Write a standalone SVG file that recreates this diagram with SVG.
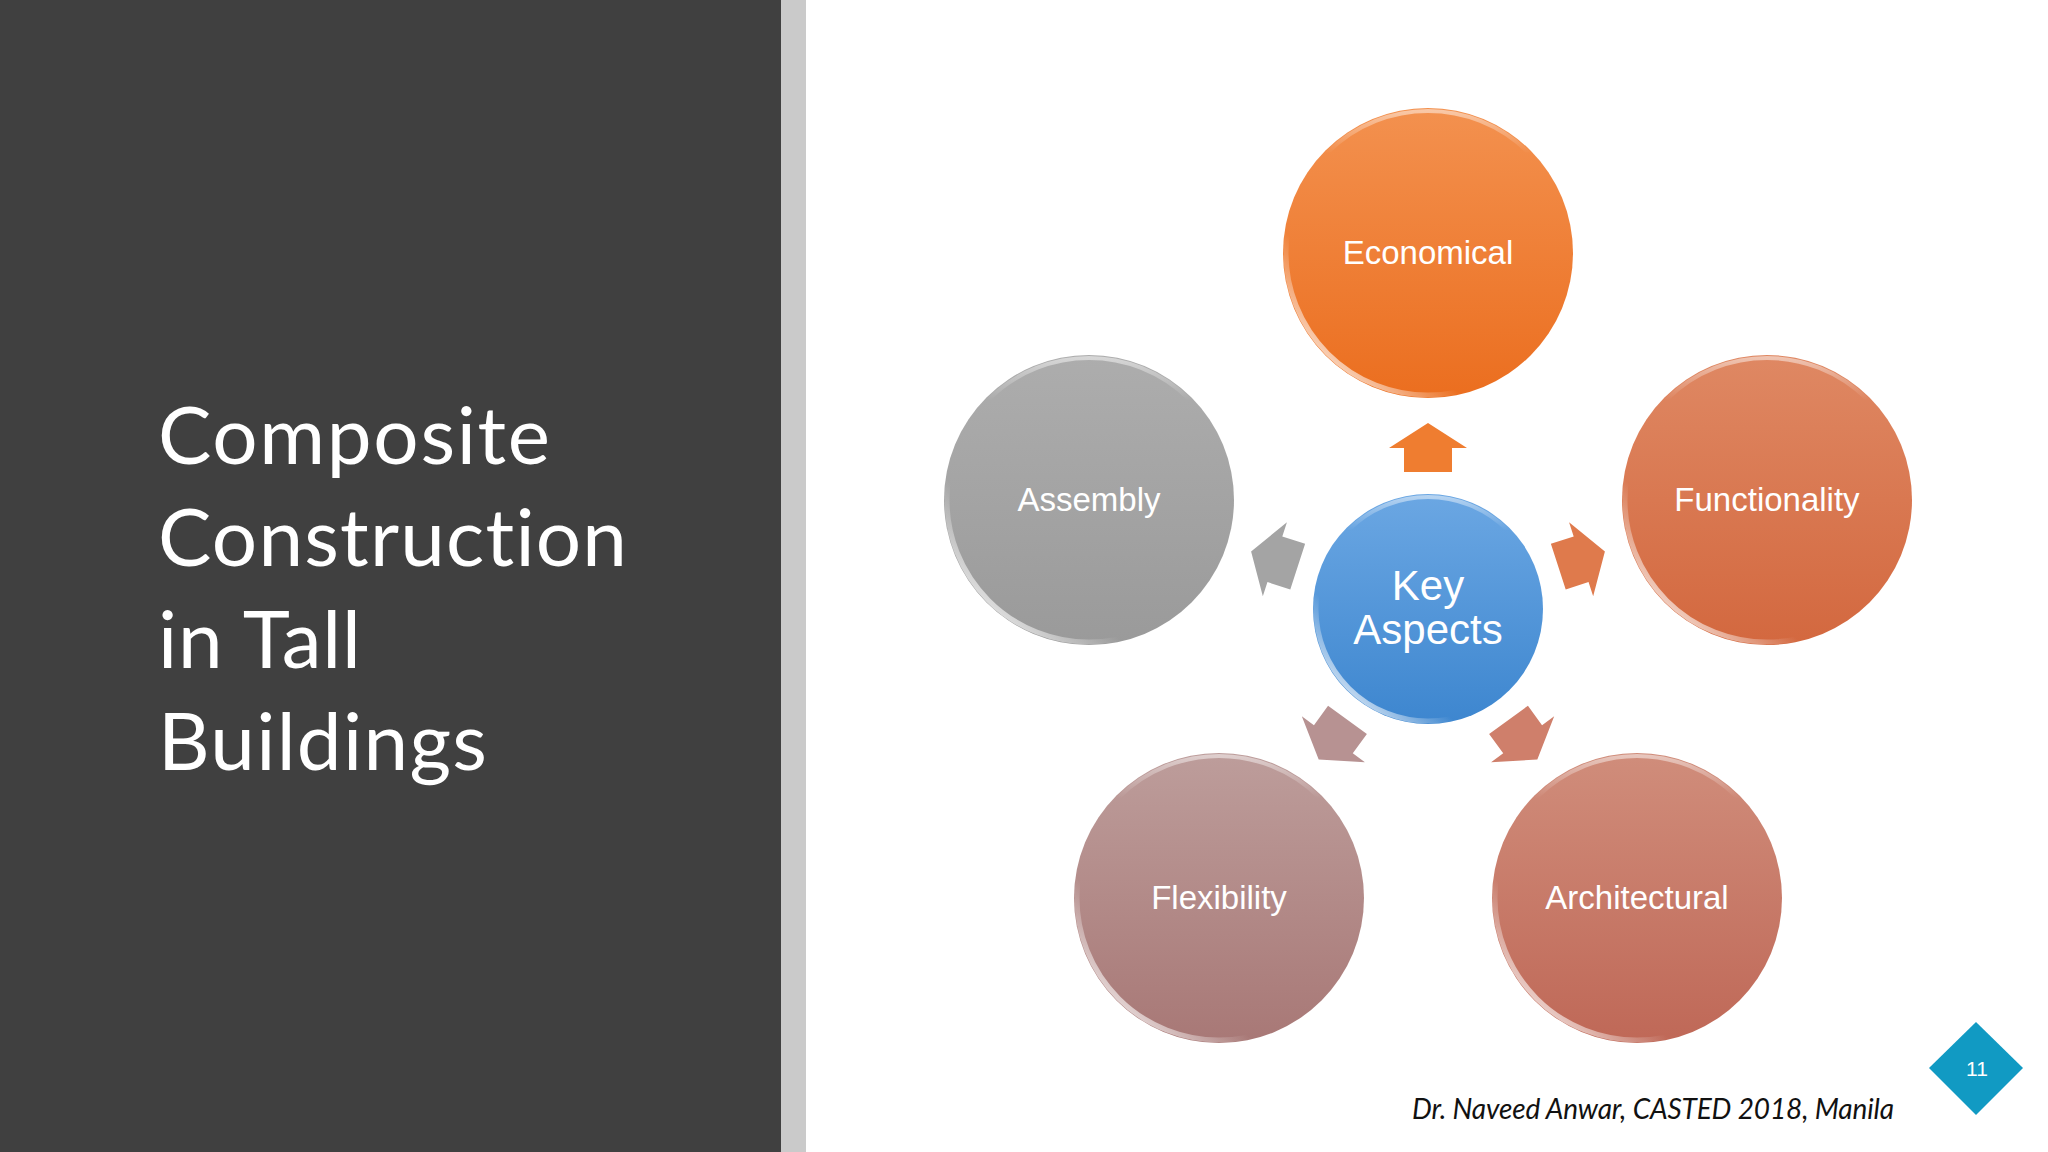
<svg xmlns="http://www.w3.org/2000/svg" width="2048" height="1152" viewBox="0 0 2048 1152">
  <defs>
    <style>
      .title { font-family: Lato, "Open Sans", "Liberation Sans", sans-serif; font-size: 80px; fill: #ffffff; font-variant-ligatures: none; }
      .lbl { font-family: "Liberation Sans", Arial, sans-serif; font-size: 33px; fill: #ffffff; text-anchor: middle; }
      .key { font-family: "Liberation Sans", Arial, sans-serif; font-size: 42px; fill: #ffffff; text-anchor: middle; }
      .foot { font-family: Lato, "Open Sans", "Liberation Sans", sans-serif; font-style: italic; font-size: 28px; fill: #111111; font-variant-ligatures: none; }
      .pg { font-family: "Liberation Sans", Arial, sans-serif; font-size: 21px; fill: #ffffff; text-anchor: middle; }
      .rim { fill: none; stroke: url(#rimG); stroke-width: 5; }
      .rimTop { fill: none; stroke: url(#rimT); stroke-width: 4; }
    </style>
    <linearGradient id="gEco" x1="0" y1="0" x2="0" y2="1">
      <stop offset="0" stop-color="#f3914f"/>
      <stop offset="1" stop-color="#eb6e1f"/>
    </linearGradient>
    <linearGradient id="gFun" x1="0" y1="0" x2="0" y2="1">
      <stop offset="0" stop-color="#df8863"/>
      <stop offset="1" stop-color="#d3683f"/>
    </linearGradient>
    <linearGradient id="gAss" x1="0" y1="0" x2="0" y2="1">
      <stop offset="0" stop-color="#adadad"/>
      <stop offset="1" stop-color="#9a9a9a"/>
    </linearGradient>
    <linearGradient id="gFle" x1="0" y1="0" x2="0" y2="1">
      <stop offset="0" stop-color="#bd9d9b"/>
      <stop offset="1" stop-color="#a87876"/>
    </linearGradient>
    <linearGradient id="gArc" x1="0" y1="0" x2="0" y2="1">
      <stop offset="0" stop-color="#d08d7b"/>
      <stop offset="1" stop-color="#bf6857"/>
    </linearGradient>
    <linearGradient id="gKey" x1="0" y1="0" x2="0" y2="1">
      <stop offset="0" stop-color="#6ba7e3"/>
      <stop offset="1" stop-color="#3d86cf"/>
    </linearGradient>
    <linearGradient id="rimG" x1="0" y1="0.85" x2="0.6" y2="0.2">
      <stop offset="0" stop-color="#ffffff" stop-opacity="0.9"/>
      <stop offset="0.35" stop-color="#ffffff" stop-opacity="0"/>
      <stop offset="1" stop-color="#ffffff" stop-opacity="0"/>
    </linearGradient>
    <linearGradient id="rimT" x1="0" y1="0" x2="0" y2="1">
      <stop offset="0" stop-color="#ffffff" stop-opacity="0.5"/>
      <stop offset="0.15" stop-color="#ffffff" stop-opacity="0"/>
      <stop offset="1" stop-color="#ffffff" stop-opacity="0"/>
    </linearGradient>
    <path id="arrow" d="M1428 423 L1467 448 L1452 448 L1452 472 L1404 472 L1404 448 L1389 448 Z"/>
  </defs>

  <rect x="0" y="0" width="2048" height="1152" fill="#ffffff"/>
  <rect x="0" y="0" width="781" height="1152" fill="#404040"/>
  <rect x="781" y="0" width="25" height="1152" fill="#cacaca"/>

  <g id="title">
    <text class="title" x="158" y="464" textLength="392">Composite</text>
    <text class="title" x="158" y="566" textLength="469">Construction</text>
    <text class="title" x="158" y="668" textLength="203">in Tall</text>
    <text class="title" x="158" y="770" textLength="329">Buildings</text>
  </g>

  <g id="connectors">
    <use href="#arrow" fill="#ef7d30"/>
    <use href="#arrow" fill="#df7a4c" transform="rotate(72 1428 609)"/>
    <use href="#arrow" fill="#cf7f6b" transform="rotate(144 1428 609)"/>
    <use href="#arrow" fill="#b79292" transform="rotate(216 1428 609)"/>
    <use href="#arrow" fill="#a4a4a4" transform="rotate(288 1428 609)"/>
  </g>

  <g id="node-economical">
    <circle cx="1428" cy="253" r="145" fill="url(#gEco)"/>
    <circle cx="1428" cy="253" r="142" class="rim"/>
    <circle cx="1428" cy="253" r="142" class="rimTop"/>
    <text class="lbl" x="1428" y="264">Economical</text>
  </g>

  <g id="node-functionality">
    <circle cx="1767" cy="500" r="145" fill="url(#gFun)"/>
    <circle cx="1767" cy="500" r="142" class="rim"/>
    <circle cx="1767" cy="500" r="142" class="rimTop"/>
    <text class="lbl" x="1767" y="511">Functionality</text>
  </g>

  <g id="node-assembly">
    <circle cx="1089" cy="500" r="145" fill="url(#gAss)"/>
    <circle cx="1089" cy="500" r="142" class="rim"/>
    <circle cx="1089" cy="500" r="142" class="rimTop"/>
    <text class="lbl" x="1089" y="511">Assembly</text>
  </g>

  <g id="node-flexibility">
    <circle cx="1219" cy="898" r="145" fill="url(#gFle)"/>
    <circle cx="1219" cy="898" r="142" class="rim"/>
    <circle cx="1219" cy="898" r="142" class="rimTop"/>
    <text class="lbl" x="1219" y="909">Flexibility</text>
  </g>

  <g id="node-architectural">
    <circle cx="1637" cy="898" r="145" fill="url(#gArc)"/>
    <circle cx="1637" cy="898" r="142" class="rim"/>
    <circle cx="1637" cy="898" r="142" class="rimTop"/>
    <text class="lbl" x="1637" y="909">Architectural</text>
  </g>

  <g id="node-key-aspects">
    <circle cx="1428" cy="609" r="115" fill="url(#gKey)"/>
    <circle cx="1428" cy="609" r="112" class="rim"/>
    <circle cx="1428" cy="609" r="112" class="rimTop"/>
    <text class="key" x="1428" y="600">Key</text>
    <text class="key" x="1428" y="644">Aspects</text>
  </g>

  <g id="page-number">
    <polygon points="1976,1022 2023,1068 1976,1115 1929,1068" fill="#119ac3"/>
    <text class="pg" x="1977" y="1076">11</text>
  </g>

  <g id="footer">
    <text class="foot" x="1412" y="1119" textLength="482">Dr. Naveed Anwar, CASTED 2018, Manila</text>
  </g>
</svg>
